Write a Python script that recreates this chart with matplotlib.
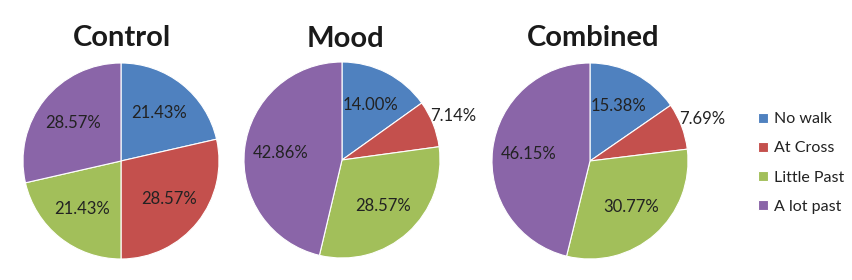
import numpy as np
import matplotlib
matplotlib.use('agg')
import matplotlib.pyplot as plt

plt.rcParams['font.family'] = ['Lato', 'DejaVu Sans']

categories = ['No walk', 'At Cross', 'Little Past', 'A lot past']
titles = ['Control', 'Mood', 'Combined']
control = [21.43, 28.57, 21.43, 28.57]
mood = [14.00, 7.14, 28.57, 42.86]
combined = [15.38, 7.69, 30.77, 46.15]
groups = [control, mood, combined]

colors = ['#4F81BF', '#C4504D', '#A2BF5A', '#8A65A8']

W, H = 853, 280
fig = plt.figure(figsize=(W / 100, H / 100), dpi=100)

# pixel centres / radius of each pie and title centre
centres = [(121, 161), (342, 160), (590, 161)]
radius = 98
title_xy = [(122, 38), (345, 39), (593, 38)]

for vals, name, (cx, cy), (tx, ty) in zip(groups, titles, centres, title_xy):
    ax = fig.add_axes([(cx - radius) / W, 1 - (cy + radius) / H,
                       2 * radius / W, 2 * radius / H])
    wedges, _ = ax.pie(vals, colors=colors, startangle=90, counterclock=False,
                       wedgeprops=dict(edgecolor='white', linewidth=0.8))
    total = sum(vals)
    for w, v in zip(wedges, vals):
        ang = np.deg2rad((w.theta1 + w.theta2) / 2)
        d = 1.22 if v / total < 0.1 else 0.63
        ax.text(d * np.cos(ang), d * np.sin(ang), f'{v:.2f}%',
                ha='center', va='center', fontsize=12, color='#222222')
    ax.set_xlim(-1, 1)
    ax.set_ylim(-1, 1)
    ax.set_aspect('equal')
    ax.axis('off')
    fig.text(tx / W, 1 - ty / H, name, ha='center', va='center',
             fontsize=21, fontweight='bold', color='#1a1a1a')

fig.legend(wedges, categories, loc='center left',
           bbox_to_anchor=(744 / W, 1 - 163 / H), frameon=False,
           fontsize=11.5, handlelength=0.6, handleheight=0.6,
           handletextpad=0.35, labelspacing=0.95, labelcolor='#222222')

fig.savefig('out.png', dpi=100)
